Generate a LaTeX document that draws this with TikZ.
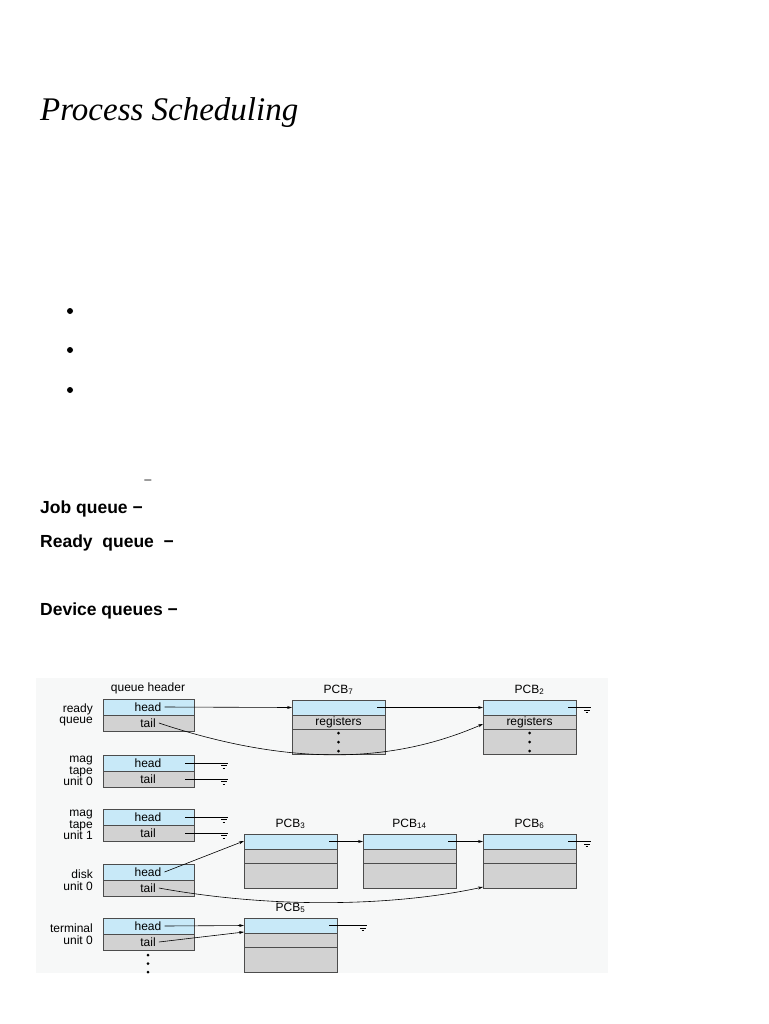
\documentclass[tikz,border=0pt]{standalone}
\usepackage{fontspec}
\setmainfont{Liberation Sans}
\newfontfamily\titlefont{Liberation Serif}
\usetikzlibrary{arrows.meta}
\definecolor{cblue}{HTML}{C8E9F8}
\definecolor{cgray}{HTML}{D2D2D2}
\definecolor{bgc}{HTML}{F7F8F8}
\tikzset{
  cell/.style={draw=black!70,line width=0.5pt},
  lbl/.style={font=\fontsize{12}{12.5}\selectfont,inner sep=0pt},
  arr/.style={line width=0.6pt,-{Stealth[length=5pt,width=3pt]}},
  ln/.style={line width=0.6pt},
  dotn/.style={circle,fill=black,inner sep=0pt,minimum size=3pt},
  ground/.pic={\draw[line width=0.5pt] (-4,0)--(4,0) (-2.7,2.5)--(2.7,2.5) (-1.4,5)--(1.4,5);}
}
\newcommand{\qhead}[3]{% name, top y, label
  \fill[cblue] (103,#2) rectangle (194,#2+16);
  \fill[cgray] (103,#2+16) rectangle (194,#2+32);
  \draw[cell] (103,#2) rectangle (194,#2+32) (103,#2+16)--(194,#2+16);
  \node[lbl] (#1h) at (148,#2+8) {head};
  \node[lbl] (#1t) at (148,#2+24) {tail};
  \node[lbl,anchor=east,align=right] (#1l) at (93,#2+16) {#3};
}
\newcommand{\pcb}[5]{% name, left x, top y, sub, registers?
  \fill[cblue] (#2,#3) rectangle (#2+93,#3+15);
  \fill[cgray] (#2,#3+15) rectangle (#2+93,#3+54);
  \draw[cell] (#2,#3) rectangle (#2+93,#3+54) (#2,#3+15)--(#2+93,#3+15) (#2,#3+29)--(#2+93,#3+29);
  \coordinate (#1) at (#2,#3+7.5);
  \coordinate (#1o) at (#2+85,#3+7.5);
  \node[lbl,anchor=base] (#1n) at (#2+46.5,#3-7) {PCB$_{\mathrm{#4}}$};
  #5
}
\begin{document}
\begin{tikzpicture}[x=1pt,y=-1pt]
\useasboundingbox (0,0) rectangle (768,1024);
\fill[white] (0,0) rectangle (768,1024);
\node[anchor=west,inner sep=0pt,font=\titlefont\itshape\fontsize{33}{35}\selectfont] (title) at (40,113) {Process Scheduling};
\foreach \y [count=\i] in {311,350,390} \node[dotn,minimum size=6pt] (b\i) at (70,\y) {};
\node[inner sep=0pt,font=\fontsize{12}{12}\selectfont] (dash) at (148,480) {\_};
\node[anchor=west,inner sep=0pt,font=\bfseries\fontsize{17.5}{18}\selectfont] (jq) at (40,509) {Job queue −};
\node[anchor=west,inner sep=0pt,font=\bfseries\fontsize{17.5}{18}\selectfont] (rq) at (40,543) {Ready \ queue \ −};
\node[anchor=west,inner sep=0pt,font=\bfseries\fontsize{17.5}{18}\selectfont] (dq) at (40,611) {Device queues −};
\fill[bgc] (36,678) rectangle (608,973);
\node[lbl] (qh) at (148,688) {queue header};
\qhead{r}{699}{ready\\[-1pt]queue}
\qhead{m}{755}{mag\\[-1pt]tape\\[-1pt]unit 0}
\qhead{n}{809}{mag\\[-1pt]tape\\[-1pt]unit 1}
\qhead{d}{864}{disk\\[-1pt]unit 0}
\qhead{t}{918}{terminal\\[-1pt]unit 0}
\pcb{p7}{292}{700}{7}{\node[lbl] (p7r) at (338.5,722) {registers};\foreach \k in {0,1,2} \node[dotn] at (338.5,733+\k*9) {};}
\pcb{p2}{483}{700}{2}{\node[lbl] (p2r) at (529.5,722) {registers};\foreach \k in {0,1,2} \node[dotn] at (529.5,733+\k*9) {};}
\pcb{p3}{244}{834}{3}{}
\pcb{p14}{363}{834}{14}{}
\pcb{p6}{483}{834}{6}{}
\pcb{p5}{244}{918}{5}{}
\foreach \k in {0,1,2} \node[dotn] at (148,955+\k*8.5) {};
% connectors
\draw[arr] ([xshift=3pt]rh.east) -- (p7);
\draw[arr] (p7o) -- (p2);
\draw[arr] ([xshift=3pt]rt.east) .. controls (300,770) and (400,760) .. (483,724);
\draw[ln] (p2o) -- ++(15,0) coordinate (g1); \pic at ([xshift=4pt]g1) {ground};
\foreach \q/\yy in {mh/763,mt/779,nh/817,nt/833}{
  \draw[ln] (185,\yy) -- (220,\yy) coordinate (g\q); \pic at ([xshift=4pt]g\q) {ground};}
\draw[arr] ([xshift=3pt]dh.east) -- (244,841);
\draw[arr] (p3o) -- (p14);
\draw[arr] (p14o) -- (p6);
\draw[ln] (p6o) -- ++(15,0) coordinate (g2); \pic at ([xshift=4pt]g2) {ground};
\draw[arr] ([xshift=3pt]dt.east) .. controls (280,910) and (400,905) .. (483,887);
\draw[arr] ([xshift=3pt]th.east) -- (p5);
\draw[arr] ([xshift=3pt]tt.east) -- (244,932);
\draw[ln] (p5o) -- ++(30,0) coordinate (g3); \pic at ([xshift=4pt]g3) {ground};
\end{tikzpicture}
\end{document}
